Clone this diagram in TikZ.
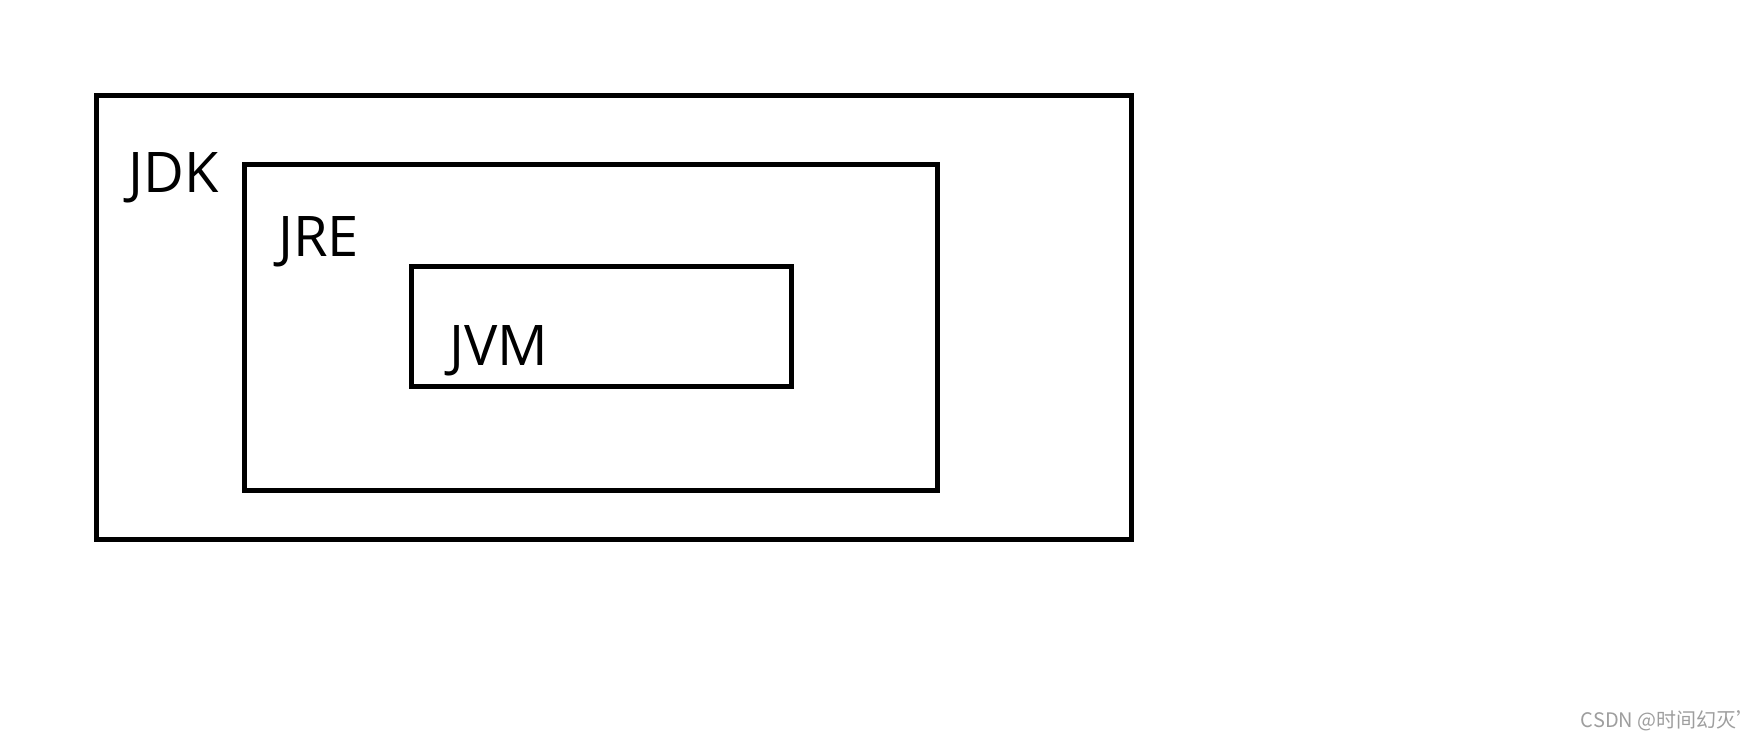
\documentclass[tikz,border=0pt]{standalone}
\usepackage{fontspec}
\setmainfont{Open Sans}
\newfontfamily\cjk{Noto Sans CJK SC}
\tikzstyle{frame}=[draw, line width=2.5pt]
\tikzstyle{lbl}=[anchor=base west, inner sep=0pt, font=\fontsize{28}{30}\selectfont]
\tikzstyle{wmark}=[anchor=base east, inner sep=0pt, text=black!38, font=\cjk\fontsize{10}{12}\selectfont]

\begin{document}
\begin{tikzpicture}[x=0.5pt, y=-0.5pt]

\useasboundingbox (0,0) rectangle (1755,732);

\draw[frame] (96,96) rectangle (1131.5,539.5);
\draw[frame] (244.5,164.5) rectangle (937.5,490.5);
\draw[frame] (411,266.5) rectangle (791.5,387);

\node[lbl] (jdk) at (128,193) {JDK};
\node[lbl] (jre) at (278,257) {JRE};
\node[lbl] (jvm) at (449,365) {JVM};

\node[wmark] (csdn) at (1757,727) {CSDN @时间幻灭’};

\end{tikzpicture}
\end{document}
